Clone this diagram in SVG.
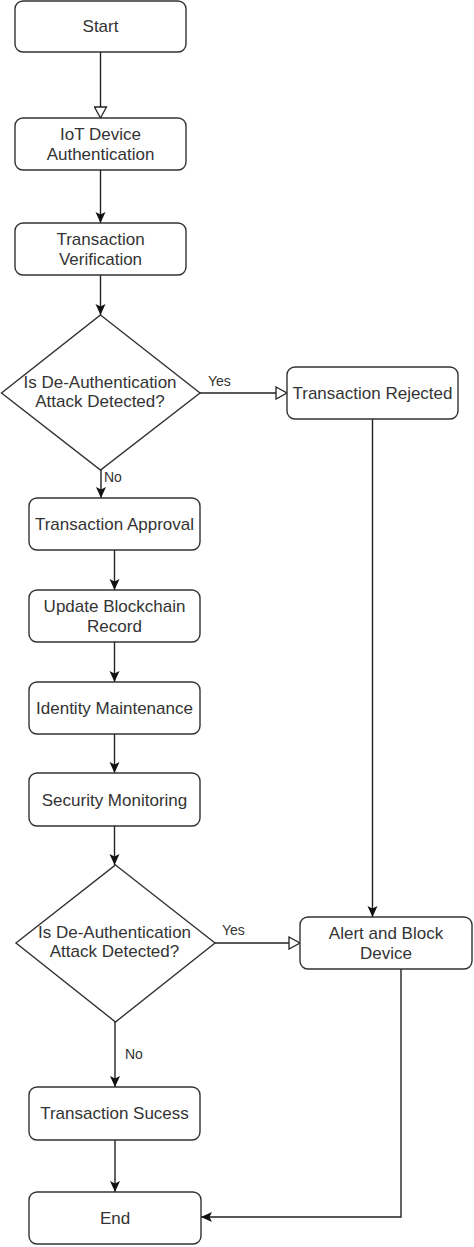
<svg xmlns="http://www.w3.org/2000/svg" width="474" height="1247" viewBox="0 0 474 1247">
<style>
.box{fill:#fff;stroke:#333;stroke-width:1.4}
.t{font-family:"Liberation Sans",Arial,sans-serif;font-size:17px;fill:#333;text-anchor:middle}
.lbl{font-family:"Liberation Sans",Arial,sans-serif;font-size:14px;fill:#333}
.c{fill:none;stroke:#222;stroke-width:1.4}
</style>
<defs>
<marker id="fa" markerUnits="userSpaceOnUse" viewBox="0 0 11 11" refX="11" refY="5.5" markerWidth="11" markerHeight="11" orient="auto">
<path d="M0,0.5 L11,5.5 L0,10.5 L2.5,5.5 z" fill="#111"/>
</marker>
<marker id="ha" markerUnits="userSpaceOnUse" viewBox="0 0 14 14" refX="12.5" refY="7" markerWidth="14" markerHeight="14" orient="auto">
<path d="M1.5,1 L12.5,7 L1.5,13 z" fill="#fff" stroke="#222" stroke-width="1.3"/>
</marker>
</defs>
<rect width="474" height="1247" fill="#fff"/>
<g id="connectors">
<path class="c" d="M100.5,52 V118" marker-end="url(#ha)"/>
<path class="c" d="M100.5,170 V223" marker-end="url(#fa)"/>
<path class="c" d="M100.5,275 V315" marker-end="url(#fa)"/>
<path class="c" d="M200,393 H287" marker-end="url(#ha)"/>
<path class="c" d="M101,470 V498" marker-end="url(#fa)"/>
<path class="c" d="M114.5,550 V590" marker-end="url(#fa)"/>
<path class="c" d="M114.5,642 V682" marker-end="url(#fa)"/>
<path class="c" d="M114.5,734 V773" marker-end="url(#fa)"/>
<path class="c" d="M114.5,826 V865" marker-end="url(#fa)"/>
<path class="c" d="M215,943 H300" marker-end="url(#ha)"/>
<path class="c" d="M115,1022 V1087" marker-end="url(#fa)"/>
<path class="c" d="M115,1140 V1192" marker-end="url(#fa)"/>
<path class="c" d="M372.5,419 V917" marker-end="url(#fa)"/>
<path class="c" d="M401,969 V1217 H201" marker-end="url(#fa)"/>
<text class="lbl" x="208" y="386">Yes</text>
<text class="lbl" x="104" y="482">No</text>
<text class="lbl" x="222" y="935">Yes</text>
<text class="lbl" x="125" y="1059">No</text>
</g>
<g id="start"><rect class="box" x="15" y="1" width="171" height="51" rx="8"/><text class="t" x="100.5" y="32">Start</text></g>
<g id="iot-auth"><rect class="box" x="15" y="118" width="171" height="52" rx="8"/><text class="t" x="100.5" y="140.3">IoT Device</text><text class="t" x="100.5" y="159.8">Authentication</text></g>
<g id="tx-verif"><rect class="box" x="15" y="223" width="171" height="52" rx="8"/><text class="t" x="100.5" y="245.3">Transaction</text><text class="t" x="100.5" y="264.8">Verification</text></g>
<g id="decision1"><polygon class="box" points="100.5,315 200,393 100.5,470 1.5,393"/><text class="t" x="100" y="387.5">Is De-Authentication</text><text class="t" x="100" y="406.5">Attack Detected?</text></g>
<g id="tx-rejected"><rect class="box" x="287" y="367" width="171" height="52" rx="8"/><text class="t" x="372.5" y="399">Transaction Rejected</text></g>
<g id="tx-approval"><rect class="box" x="29" y="498" width="171" height="52" rx="8"/><text class="t" x="114.5" y="530">Transaction Approval</text></g>
<g id="update-blockchain"><rect class="box" x="29" y="590" width="171" height="52" rx="8"/><text class="t" x="114.5" y="612.3">Update Blockchain</text><text class="t" x="114.5" y="631.8">Record</text></g>
<g id="identity"><rect class="box" x="29" y="682" width="171" height="52" rx="8"/><text class="t" x="114.5" y="714">Identity Maintenance</text></g>
<g id="security"><rect class="box" x="29" y="773" width="171" height="53" rx="8"/><text class="t" x="114.5" y="805.5">Security Monitoring</text></g>
<g id="decision2"><polygon class="box" points="115.5,865 215,943 115.5,1022 16,943"/><text class="t" x="114.5" y="937.5">Is De-Authentication</text><text class="t" x="114.5" y="956.5">Attack Detected?</text></g>
<g id="alert-block"><rect class="box" x="300" y="917" width="172" height="52" rx="8"/><text class="t" x="386" y="939.3">Alert and Block</text><text class="t" x="386" y="958.8">Device</text></g>
<g id="tx-success"><rect class="box" x="29" y="1087" width="171" height="53" rx="8"/><text class="t" x="114.5" y="1119">Transaction Sucess</text></g>
<g id="end"><rect class="box" x="29" y="1192" width="172" height="52" rx="8"/><text class="t" x="115" y="1224">End</text></g>
</svg>
